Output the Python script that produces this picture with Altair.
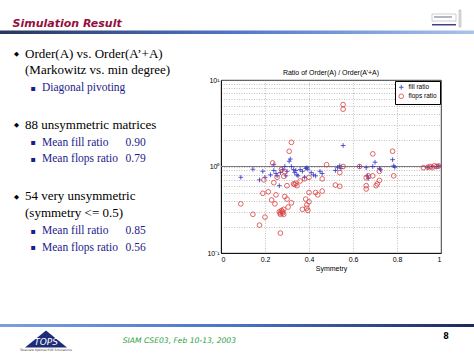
import altair as alt
import pandas as pd

# ---------------- data ----------------
SERIES = ["fill ratio", "flops ratio"]

fill_x = [0.09, 0.145, 0.175, 0.19, 0.20, 0.225, 0.24, 0.24, 0.255, 0.265,
          0.27, 0.28, 0.29, 0.295, 0.31, 0.315, 0.32, 0.33, 0.335, 0.34,
          0.345, 0.35, 0.36, 0.37, 0.38, 0.385, 0.39, 0.395, 0.41, 0.42,
          0.43, 0.45, 0.46, 0.52, 0.53, 0.54, 0.545, 0.555, 0.63, 0.66,
          0.665, 0.67, 0.69, 0.70, 0.72, 0.725, 0.78, 0.785, 0.79, 0.94,
          0.96, 0.98, 0.99, 0.25, 0.30]
fill_y = [0.75, 0.93, 0.70, 0.88, 0.75, 0.80, 1.05, 0.90, 0.78, 0.60,
          0.85, 0.92, 1.00, 0.78, 1.15, 1.22, 1.00, 0.92, 0.85, 0.90,
          0.80, 0.78, 0.92, 0.88, 0.75, 0.95, 0.97, 0.93, 0.85, 0.80,
          0.78, 0.88, 0.83, 0.90, 0.97, 1.02, 0.95, 1.75, 1.00, 0.97,
          0.78, 0.73, 1.00, 1.12, 0.95, 0.92, 1.20, 1.02, 0.98, 0.97,
          1.00, 1.00, 1.02, 0.83, 0.88]

flops_x = [0.09, 0.145, 0.175, 0.19, 0.195, 0.20, 0.215, 0.23, 0.235, 0.24,
           0.245, 0.25, 0.255, 0.265, 0.27, 0.27, 0.275, 0.28, 0.285, 0.285,
           0.285, 0.29, 0.29, 0.30, 0.30, 0.305, 0.31, 0.32, 0.32, 0.33,
           0.335, 0.34, 0.345, 0.36, 0.37, 0.38, 0.385, 0.39, 0.39, 0.395,
           0.40, 0.40, 0.40, 0.43, 0.44, 0.46, 0.46, 0.48, 0.52, 0.54,
           0.54, 0.555, 0.555, 0.555, 0.63, 0.66, 0.66, 0.66, 0.67, 0.69,
           0.69, 0.705, 0.71, 0.72, 0.72, 0.78, 0.785, 0.92, 0.94, 0.95,
           0.96, 0.97, 0.98, 0.99, 0.275, 0.28, 0.27]
flops_y = [0.37, 0.28, 0.21, 0.49, 0.70, 0.26, 0.51, 0.41, 1.10, 0.65,
           0.37, 0.47, 0.75, 0.30, 0.17, 0.29, 0.92, 0.30, 0.28, 0.32,
           0.77, 0.45, 0.87, 0.60, 0.42, 0.34, 1.50, 1.90, 0.38, 0.63,
           0.62, 0.64, 0.60, 0.68, 0.32, 0.72, 0.42, 0.36, 0.33, 0.31,
           0.50, 0.39, 0.75, 0.50, 0.47, 0.52, 0.72, 1.05, 0.61, 0.59,
           0.85, 4.60, 5.20, 1.00, 1.00, 0.74, 0.60, 0.55, 0.78, 1.40,
           0.78, 0.60, 0.63, 0.69, 0.88, 1.50, 0.78, 0.97, 0.98, 1.00,
           0.97, 1.02, 1.00, 1.01, 0.31, 0.29, 0.28]

X_TICKS = [0, 0.2, 0.4, 0.6, 0.8, 1]
Y_GRID = [0.1, 0.2, 0.3, 0.4, 0.5, 0.6, 0.7, 0.8, 0.9,
          1, 2, 3, 4, 5, 6, 7, 8, 9, 10]

TITLE = "Simulation Result"
CHART_TITLE = "Ratio of Order(A) / Order(A’+A)"
X_TITLE = "Symmetry"
MAIN_LINES = ["Order(A) vs. Order(A’+A)", "(Markowitz  vs. min degree)",
              "88 unsymmetric matrices", "54 very unsymmetric",
              "(symmetry <= 0.5)"]
SUB_LINES = ["Diagonal pivoting", "Mean fill ratio", "Mean flops ratio",
             "Mean fill ratio", "Mean flops ratio"]
SUB_VALUES = ["", "0.90", "0.79", "0.85", "0.56"]
FOOTER = "SIAM CSE03, Feb 10-13, 2003"
PAGE = "8"

# ---------------- styling ----------------
BLUE = "#3434c8"
RED = "#d84040"
NAVY = "#1c1c8c"
PLUS = "M-1,0L1,0M0,-1L0,1"
OX, OY = 221, 80          # plot-area origin on the page
W, H = 220, 173

df = pd.DataFrame({
    "sym": fill_x + flops_x,
    "ratio": fill_y + flops_y,
    "series": [SERIES[0]] * len(fill_x) + [SERIES[1]] * len(flops_x),
})
ONE = pd.DataFrame({"k": [0]})

leg = alt.Legend(title=None, orient="top-right", offset=1, padding=3,
                 fillColor="white", strokeColor="black", labelFontSize=6.5,
                 labelFont="Liberation Sans", symbolSize=22,
                 symbolStrokeWidth=0.8, rowPadding=0, labelOffset=4)

x_enc = alt.X("sym:Q", scale=alt.Scale(domain=[0, 1], nice=False, zero=False),
              axis=alt.Axis(values=X_TICKS, format="~g", title=X_TITLE))
y_enc = alt.Y("ratio:Q", scale=alt.Scale(type="log", domain=[0.1, 10], nice=False),
              axis=alt.Axis(values=Y_GRID, title=None,
                            labelExpr="datum.value == 10 ? '10¹' : datum.value == 1 ? '10⁰' : datum.value == 0.1 ? '10⁻¹' : ''"))

ref = alt.Chart(pd.DataFrame({"r": [1]})).mark_rule(color="#7a7a7a", strokeWidth=1).encode(
    y=alt.Y("r:Q"))

points = alt.Chart(df).mark_point(filled=False, size=22, strokeWidth=0.8, opacity=1).encode(
    x=x_enc, y=y_enc,
    color=alt.Color("series:N", scale=alt.Scale(domain=SERIES, range=[BLUE, RED]), legend=leg),
    shape=alt.Shape("series:N", scale=alt.Scale(domain=SERIES, range=[PLUS, "circle"]), legend=leg),
)


def txt(s, x, y, size, color="black", font="Liberation Serif", weight="normal",
        style="normal", align="left"):
    return alt.Chart(ONE).mark_text(
        text=s, align=align, baseline="alphabetic", fontSize=size, font=font,
        fontWeight=weight, fontStyle=style, color=color,
    ).encode(x=alt.value(x - OX), y=alt.value(y - OY))


def rect(x1, x2, y1, y2, color, stroke=None, sw=0):
    kw = {}
    if stroke:
        kw = {"stroke": stroke, "strokeWidth": sw}
    return alt.Chart(ONE).mark_rect(color=color, **kw).encode(
        x=alt.value(x1 - OX), x2=alt.value(x2 - OX),
        y=alt.value(y1 - OY), y2=alt.value(y2 - OY))


def grad(stops):
    return alt.LinearGradient(
        gradient="linear",
        stops=[alt.GradientStop(color=c, offset=o) for c, o in stops],
        x1=0, x2=1, y1=0, y2=0)


deco = [
    txt(CHART_TITLE, OX + W / 2, 75, 7, font="Liberation Sans", align="center"),
    rect(0, 474, 30.5, 34, grad([("#2a3560", 0), ("#4f78c8", 0.5), ("#a9c3ea", 1)])),
    rect(0, 474, 324, 327, grad([("#7d9fe0", 0), ("#4a72c6", 0.5), ("#1e2a58", 1)])),
    txt(TITLE, 12.5, 27, 11, color="#950f3e", font="DejaVu Sans", weight="bold", style="italic"),
    # top-right logo (simplified)
    rect(432, 456, 14, 21, "white", stroke="#b0b0b0", sw=0.6),
    rect(434, 452, 16.5, 17.5, "#6a6a8a"),
    rect(432, 456, 24, 25.5, "#3a4580"),
    rect(459, 461, 10, 27, "#e0e0e0", stroke="#999", sw=0.4),
    # bottom-left logo (simplified)
    alt.Chart(ONE).mark_point(shape="M-1,0.4L1,0.4L0,-0.4Z", size=1764, filled=True,
                              color="#1e2c78", opacity=1).encode(
        x=alt.value(46 - OX), y=alt.value(339 - OY)),
    txt("TOPS", 46, 345, 9, color="white", font="DejaVu Sans", style="italic", align="center"),
    txt("Terascale Optimal PDE Simulations", 46, 350.5, 3, color="#444", font="DejaVu Sans", align="center"),
    txt(FOOTER, 122.7, 343, 7.6, color="#2e9e3e", font="DejaVu Sans", style="italic"),
    txt(PAGE, 446, 339, 8, font="DejaVu Sans", weight="bold", align="center"),
]

# bullets
MAIN_Y = [57.5, 74, 128.5, 200, 216.5]
DIAMOND = [True, False, True, True, False]
for s, y, d in zip(MAIN_LINES, MAIN_Y, DIAMOND):
    deco.append(txt(s, 25, y, 13))
    if d:
        deco.append(txt("◆", 16.5, y - 1.5, 6.5, font="DejaVu Sans", align="center"))

SUB_Y = [91, 145.5, 162, 234, 250.5]
for s, v, y in zip(SUB_LINES, SUB_VALUES, SUB_Y):
    deco.append(txt(s, 42, y, 11.5, color=NAVY))
    deco.append(txt("▪", 33, y - 0.5, 8, color=NAVY, font="DejaVu Sans", align="center"))
    if v:
        deco.append(txt(v, 125.5, y, 11.5, color=NAVY))

chart = alt.layer(ref, points, *deco).properties(
    width=W, height=H,
    autosize=alt.AutoSizeParams(type="none"),
    padding={"left": OX, "top": OY, "right": 474 - OX - W, "bottom": 355 - OY - H},
    background="white",
).configure_view(stroke="black", strokeWidth=0.8).configure_axis(
    grid=True, gridDash=[1, 1.5], gridColor="#808080", gridWidth=0.5,
    ticks=False, domainColor="black", domainWidth=0.8,
    labelFontSize=7, labelFont="Liberation Sans", labelColor="black", labelPadding=2,
    titleFontSize=7, titleFont="Liberation Sans", titleFontWeight="normal",
    titleColor="black", titlePadding=2,
)

chart.save("out.html", embed_options={"renderer": "svg", "actions": False})
